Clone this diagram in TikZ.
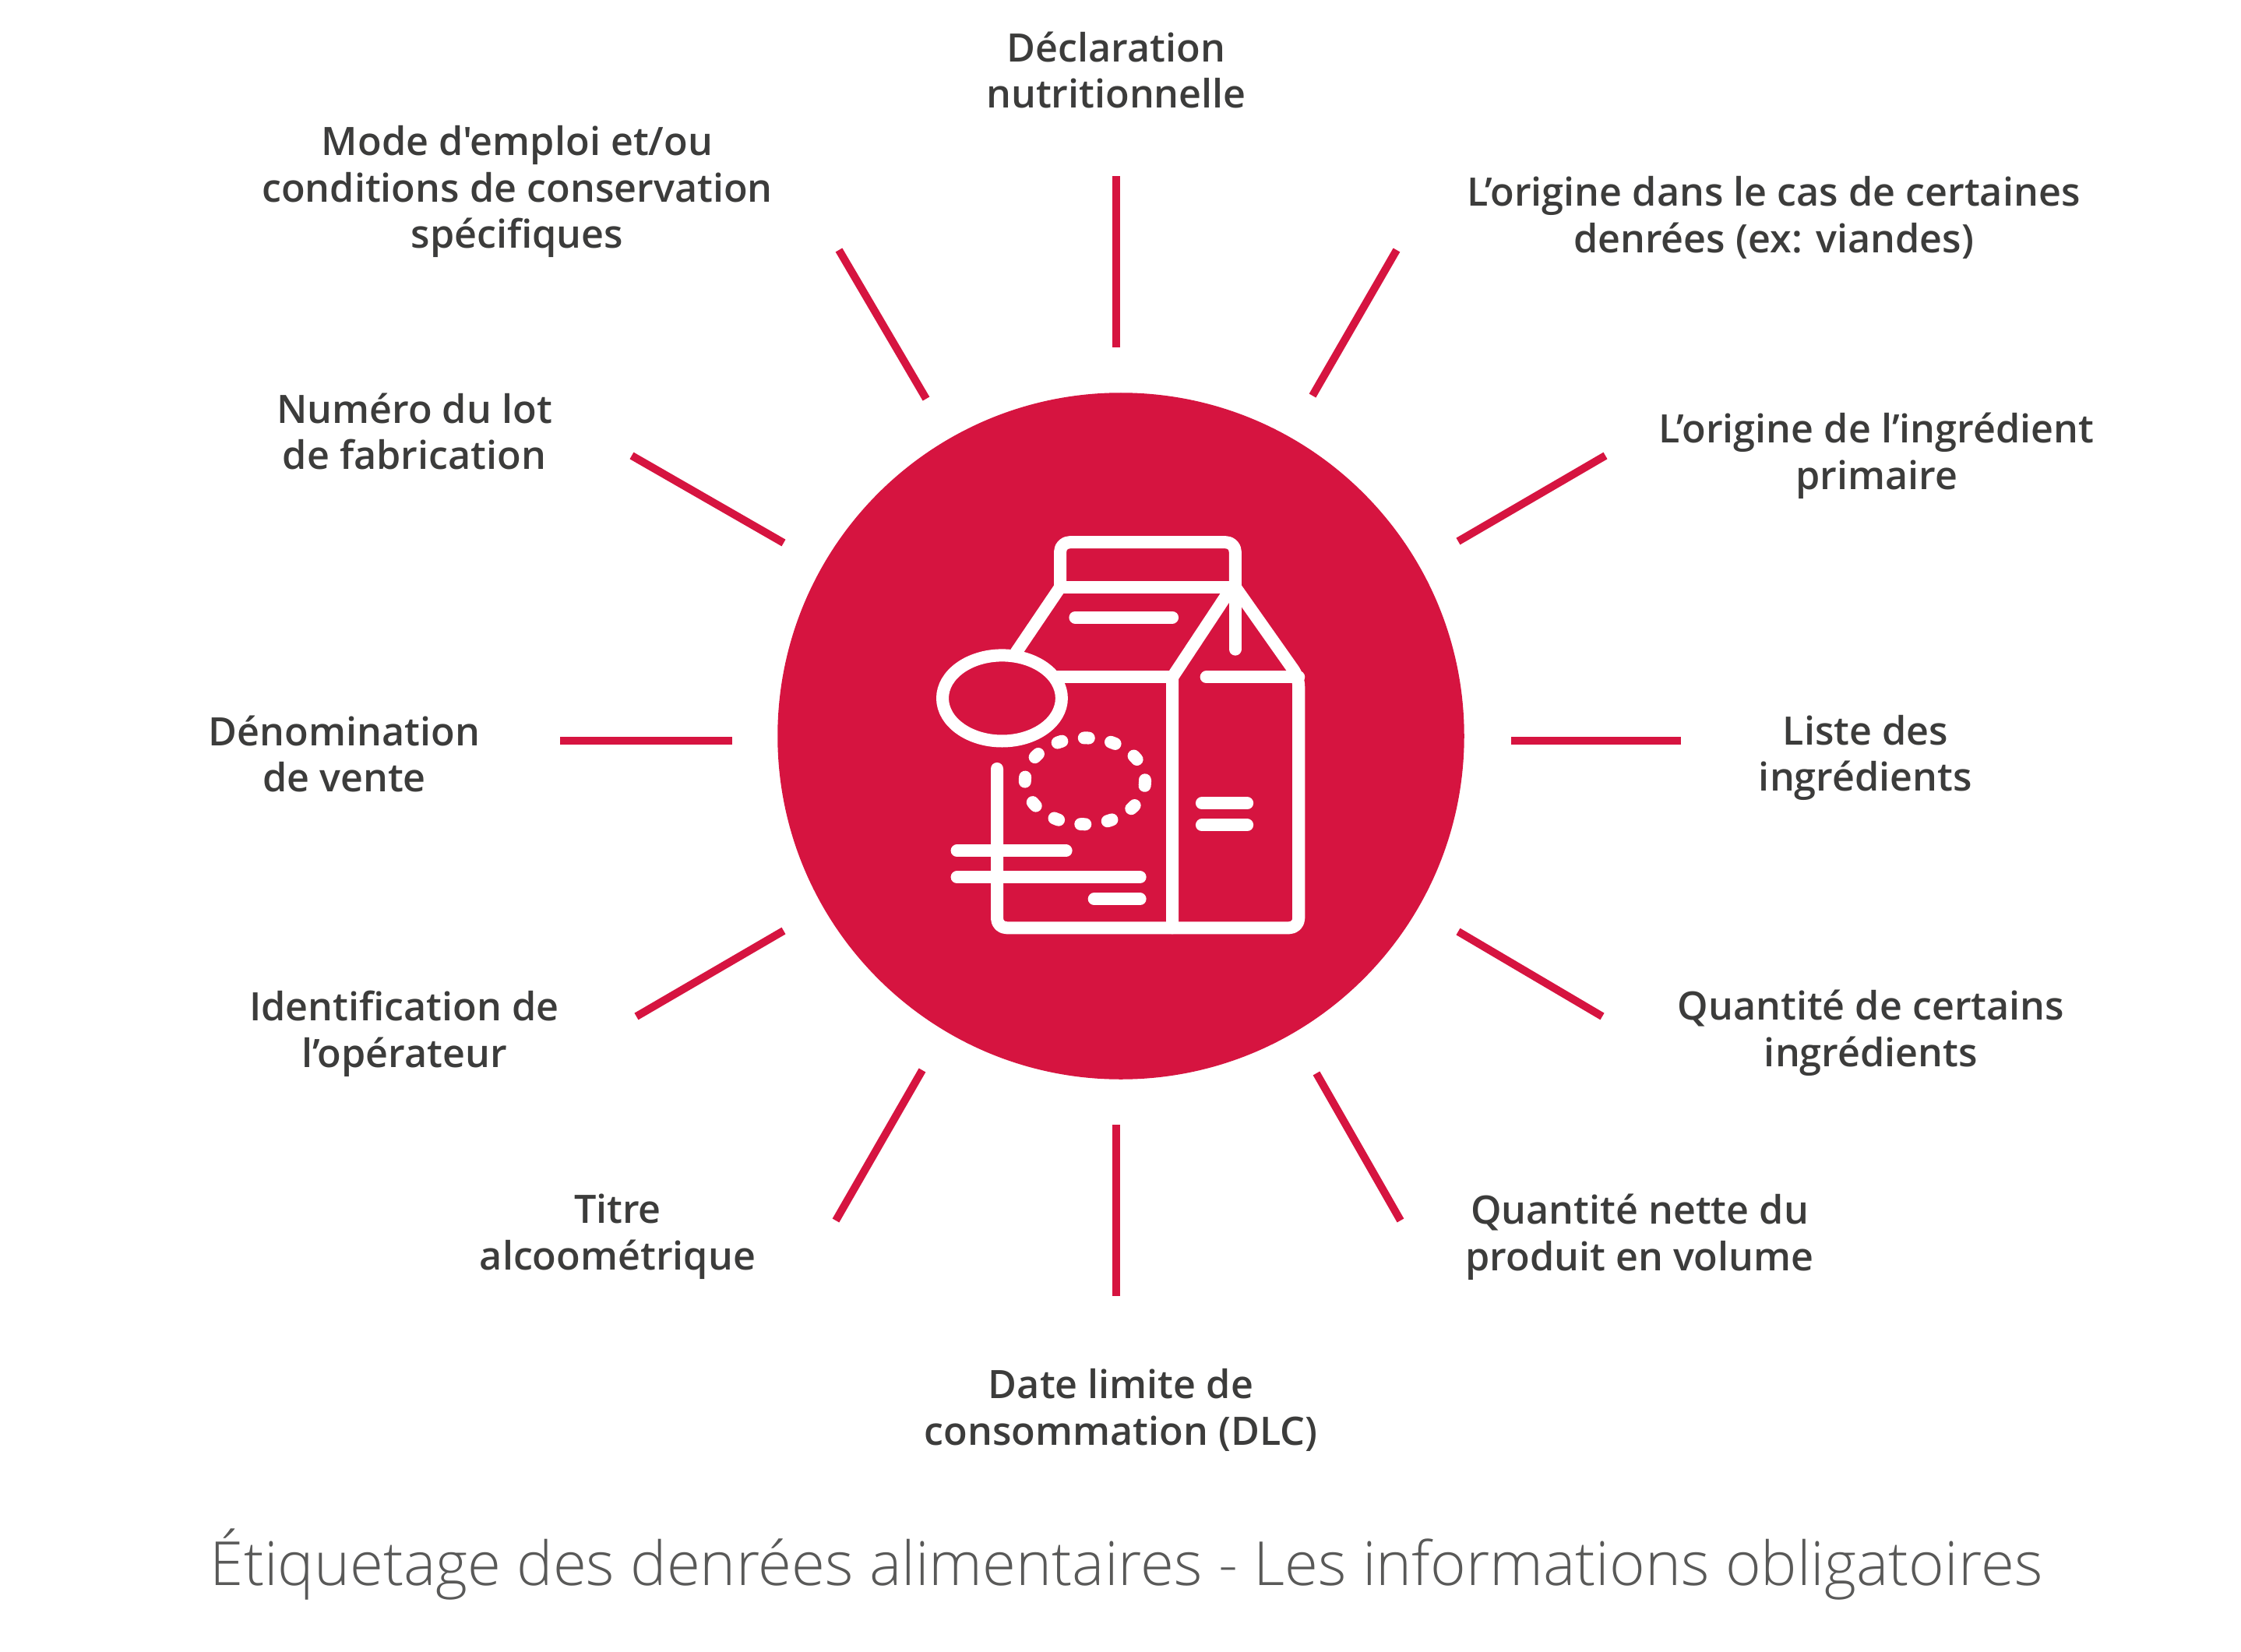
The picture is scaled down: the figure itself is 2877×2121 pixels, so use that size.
\documentclass[tikz,border=0pt]{standalone}
\usepackage{fontspec}
\usepackage{xcolor}
\setmainfont{Open Sans}
\IfFontExistsTF{Open Sans Semibold}{\newfontfamily\labelfont{Open Sans Semibold}}{%
	\newfontfamily\labelfont{Open Sans}[FakeBold=1.4]}
\IfFontExistsTF{Open Sans Light}{\newfontfamily\titlefont{Open Sans Light}}{%
	\newfontfamily\titlefont{Open Sans}}
\definecolor{labelred}{HTML}{D61440}
\definecolor{labelgrey}{HTML}{3C3C3B}
\tikzset{
	ray/.style={draw=labelred,line width=0.1cm},
	mention/.style={align=center,text=labelgrey,inner sep=0pt,font=\labelfont\fontsize{14.3pt}{17pt}\selectfont},
	iconline/.style={draw=white,line width=0.16cm,line cap=round,line join=round,rounded corners=0.12cm},
}
\begin{document}
\begin{tikzpicture}[x=0.01cm,y=-0.01cm]
	\useasboundingbox (0,0) rectangle (2877,2121);
	\node (disc)[circle,fill=labelred,minimum size=8.81cm,inner sep=0pt] at (1439,945){};
	% labels, clockwise from the top
	\node (nutrition)[mention] at (1433,90){Déclaration\\nutritionnelle};
	\node (meatorigin)[mention] at (2277,279){L’origine dans le cas de certaines\\denrées (ex: viandes)};
	\node (primaryorigin)[mention] at (2409,585){L’origine de l’ingrédient\\primaire};
	\node (ingredients)[mention] at (2395,973){Liste des\\ingrédients};
	\node (quantities)[mention] at (2402,1326){Quantité de certains\\ingrédients};
	\node (netvolume)[mention] at (2105,1588){Quantité nette du\\produit en volume};
	\node (usebydate)[mention] at (1439,1810){Date limite de\\consommation (DLC)};
	\node (alcohol)[mention] at (793,1588){Titre\\alcoométrique};
	\node (operator)[mention] at (519,1327){Identification de\\l’opérateur};
	\node (salesname)[mention] at (442,968){Dénomination\\de vente};
	\node (batch)[mention] at (532,554){Numéro du lot\\de fabrication};
	\node (usage)[mention] at (664,246){Mode d'emploi et/ou\\conditions de conservation\\spécifiques};
	\node (caption)[text=labelgrey!85,inner sep=0pt,font=\titlefont\fontsize{22.2pt}{27pt}\selectfont] at (1446,2009){Étiquetage des denrées alimentaires - Les informations obligatoires};
	% rays
	\foreach \rayname/\xa/\ya/\xb/\yb in {
		top/1433/226/1433/446,
		upright/1793/321/1685/508,
		rightup/2061/585/1872/695,
		right/1940/951/2158/951,
		rightdown/1872/1196/2057/1305,
		downright/1690/1378/1798/1567,
		bottom/1433/1444/1433/1664,
		downleft/1184/1374/1073/1567,
		leftdown/1006/1195/817/1305,
		left/719/951/940/951,
		leftup/1006/697/811/585,
		upleft/1189/512/1077/321}{
		\coordinate (\rayname A) at (\xa,\ya);
		\coordinate (\rayname B) at (\xb,\yb);
		\draw[ray] (\rayname A) -- (\rayname B);
	}
	% carton icon, in a frame of its own
	\begin{scope}[shift={(1160,660)},x=0.00357cm,y=-0.0037cm]
		\draw[iconline] (563,254) -- (563,98) -- (1192,98) -- (1192,254);
		\draw[iconline,rounded corners=0pt] (563,254) -- (1192,254);
		\draw[iconline,rounded corners=0pt] (563,254) -- (405,480);
		\draw[iconline,rounded corners=0pt] (1180,254) -- (966,567) -- (966,1438);
		\draw[iconline] (1192,254) -- (1420,567) -- (1420,1438) -- (336,1438) -- (336,885);
		\draw[iconline,rounded corners=0pt] (550,567) -- (966,567);
		\draw[iconline,rounded corners=0pt] (1088,567) -- (1420,567);
		\draw[iconline,rounded corners=0pt] (1192,254) -- (1192,470);
		\draw[iconline] (617,359) -- (966,359);
		\draw[iconline] (1072,1005) -- (1235,1005);
		\draw[iconline] (1072,1081) -- (1235,1081);
		\draw[iconline] (192,1170) -- (584,1170);
		\draw[iconline] (192,1262) -- (850,1262);
		\draw[iconline] (685,1338) -- (850,1338);
		\draw[iconline] (354,640) ellipse (214 and 149);
		\draw[iconline,dash pattern=on 1.7pt off 8.2pt] (652,928) ellipse (216 and 150);
	\end{scope}
\end{tikzpicture}
\end{document}
